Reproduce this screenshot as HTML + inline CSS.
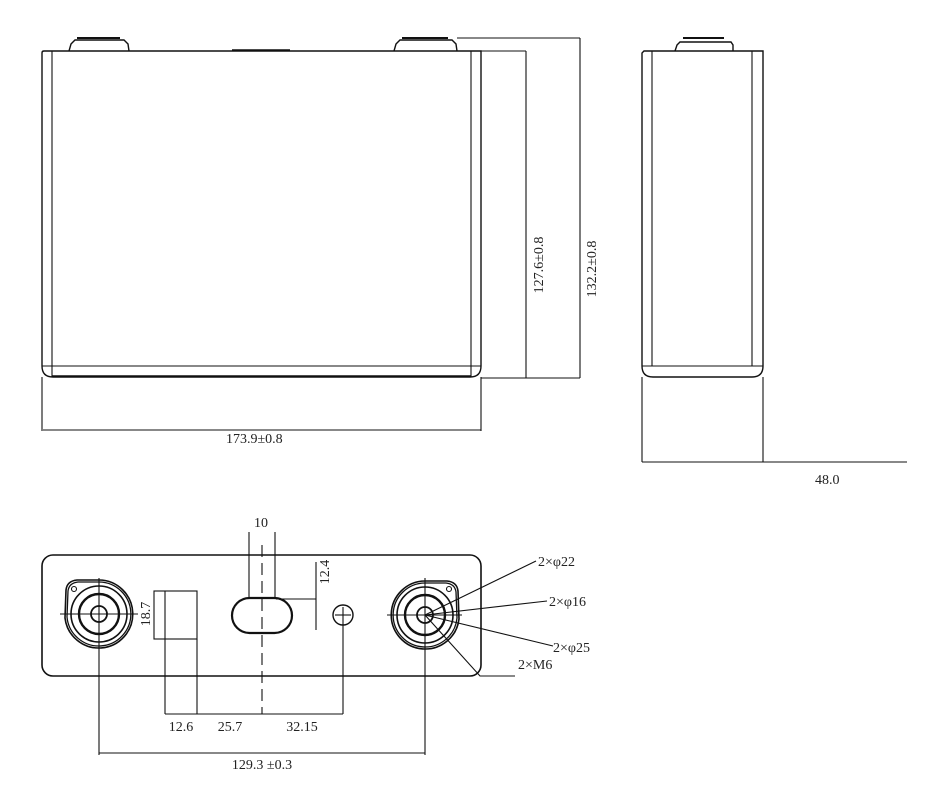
<!DOCTYPE html>
<html><head><meta charset="utf-8"><style>
html,body{margin:0;padding:0;background:#fff;}
svg{display:block}
text{font-family:"Liberation Serif","DejaVu Serif",serif;font-size:14px;fill:#222;}
</style></head><body>
<svg width="945" height="796" viewBox="0 0 945 796" xmlns="http://www.w3.org/2000/svg">
<g fill="none" stroke="#111" stroke-width="1.1">
<!-- FRONT VIEW -->
<path d="M69,51 L71,44 L75,40 L124,40 L128,44 L129,51" stroke-width="1.4"/>
<line x1="77" y1="38" x2="120" y2="38" stroke-width="2"/>
<path d="M394,51 L396,44 L400,40 L452,40 L456,44 L457,51" stroke-width="1.4"/>
<line x1="402" y1="38" x2="448" y2="38" stroke-width="2"/>
<line x1="232" y1="50" x2="290" y2="50" stroke-width="1.5"/>
<path d="M44,51 L481,51 L481,366 Q481,377 470,377 L53,377 Q42,377 42,366 L42,53 Q42,51 44,51 Z" stroke-width="1.4"/>
<line x1="52" y1="51" x2="52" y2="377"/>
<line x1="471" y1="51" x2="471" y2="377"/>
<line x1="42" y1="366" x2="481" y2="366"/>
<line x1="52" y1="376" x2="471" y2="376" stroke-width="1.6"/>
<line x1="457" y1="38" x2="580" y2="38"/>
<line x1="481" y1="51" x2="526" y2="51"/>
<line x1="526" y1="51" x2="526" y2="378"/>
<line x1="580" y1="38" x2="580" y2="378"/>
<line x1="481" y1="378" x2="580" y2="378"/>
<line x1="42" y1="377" x2="42" y2="431"/>
<line x1="481" y1="377" x2="481" y2="431"/>
<line x1="43" y1="430" x2="481" y2="430"/>
<!-- SIDE VIEW -->
<path d="M675,51 L677,45 L680,42 L731,42 L733,45 L733,51" stroke-width="1.4"/>
<line x1="683" y1="38" x2="724" y2="38" stroke-width="2"/>
<path d="M644,51 L763,51 L763,366 Q763,377 752,377 L653,377 Q642,377 642,366 L642,53 Z" stroke-width="1.4"/>
<line x1="652" y1="51" x2="652" y2="366"/>
<line x1="752" y1="51" x2="752" y2="366"/>
<line x1="642" y1="366" x2="763" y2="366"/>
<line x1="642" y1="377" x2="642" y2="462"/>
<line x1="763" y1="377" x2="763" y2="462"/>
<line x1="642" y1="462" x2="907" y2="462"/>
<!-- BOTTOM VIEW -->
<rect x="42" y="555" width="439" height="121" rx="11" stroke-width="1.6"/>
<path d="M99,580 A34,34 0 1 1 65,618 L66,590 Q67,581 77,580 Z" stroke-width="1.6"/>
<path d="M99,582 A32,32 0 1 1 67,617 L68,591 Q69,583 78,582 Z" stroke-width="1.3"/>
<circle cx="99" cy="614" r="28" stroke-width="1.6"/>
<circle cx="99" cy="614" r="20" stroke-width="2.4"/>
<circle cx="99" cy="614" r="8" stroke-width="1.8"/>
<circle cx="74" cy="589" r="2.5"/>
<line x1="60" y1="614" x2="138" y2="614"/>
<line x1="99" y1="578" x2="99" y2="755"/>
<path d="M425,581 A34,34 0 1 0 459,619 L458,591 Q457,582 447,581 Z" stroke-width="1.6"/>
<path d="M425,583 A32,32 0 1 0 457,618 L456,592 Q455,584 446,583 Z" stroke-width="1.3"/>
<circle cx="425" cy="615" r="28" stroke-width="1.6"/>
<circle cx="425" cy="615" r="20" stroke-width="2.4"/>
<circle cx="425" cy="615" r="8" stroke-width="1.8"/>
<circle cx="449" cy="589" r="2.5"/>
<line x1="387" y1="615" x2="462" y2="615"/>
<line x1="425" y1="578" x2="425" y2="755"/>
<line x1="425" y1="615" x2="536" y2="561"/>
<line x1="425" y1="615" x2="547" y2="601"/>
<line x1="425" y1="615" x2="553" y2="646"/>
<path d="M425,615 L480,676 L515,676"/>
<rect x="154" y="591" width="43" height="48"/>
<line x1="165" y1="591" x2="165" y2="714"/>
<line x1="197" y1="639" x2="197" y2="714"/>
<rect x="232" y="598" width="60" height="35" rx="17.5" stroke-width="2.2"/>
<line x1="249" y1="532" x2="249" y2="598"/>
<line x1="275" y1="532" x2="275" y2="598"/>
<line x1="262" y1="545" x2="262" y2="714" stroke-dasharray="12,6"/>
<line x1="276" y1="599" x2="316" y2="599"/>
<line x1="316" y1="562" x2="316" y2="630"/>
<circle cx="343" cy="615" r="10" stroke-width="1.4"/>
<line x1="335" y1="615" x2="351" y2="615"/>
<line x1="343" y1="607" x2="343" y2="714"/>
<line x1="165" y1="714" x2="343" y2="714"/>
<line x1="99" y1="753" x2="425" y2="753"/>
</g>
<text x="226" y="443" font-size="16">173.9±0.8</text>
<text x="815" y="484" font-size="15">48.0</text>
<text transform="translate(543,265) rotate(-90)" text-anchor="middle" font-size="15">127.6±0.8</text>
<text transform="translate(596,269) rotate(-90)" text-anchor="middle" font-size="15">132.2±0.8</text>
<text x="261" y="527" text-anchor="middle" font-size="14">10</text>
<text transform="translate(329,572) rotate(-90)" text-anchor="middle" font-size="13">12.4</text>
<text transform="translate(150,614) rotate(-90)" text-anchor="middle" font-size="14">18.7</text>
<text x="181" y="731" text-anchor="middle" font-size="14">12.6</text>
<text x="230" y="731" text-anchor="middle" font-size="14">25.7</text>
<text x="302" y="731" text-anchor="middle" font-size="14">32.15</text>
<text x="262" y="769" text-anchor="middle" font-size="15">129.3 ±0.3</text>
<text x="538" y="566" font-size="14">2×φ22</text>
<text x="549" y="606" font-size="14">2×φ16</text>
<text x="553" y="652" font-size="14">2×φ25</text>
<text x="518" y="669" font-size="14">2×M6</text>
</svg>
</body></html>
